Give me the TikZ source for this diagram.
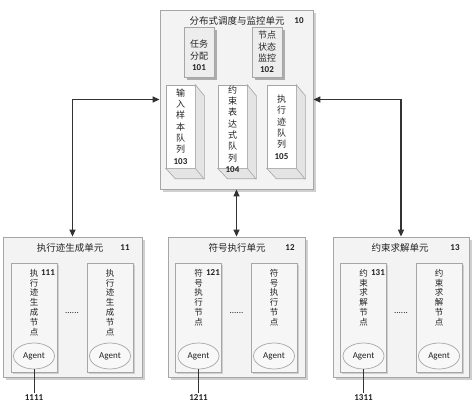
\documentclass[tikz,border=0pt]{standalone}
\usepackage{fontspec}
\setmainfont{Carlito}
\newfontfamily\cjk{Noto Sans CJK SC}
\newfontfamily\numf{Carlito}
\usetikzlibrary{shadows,arrows.meta,shapes.geometric,calc}
\definecolor{txt}{HTML}{222222}
\definecolor{bordc}{HTML}{A6A6A6}
\definecolor{boxfill}{HTML}{F3F3F3}
\definecolor{innfill}{HTML}{F6F6F6}
\definecolor{smfill}{HTML}{EDEDED}
\definecolor{sidefill}{HTML}{E4E4E4}
\definecolor{ellfill}{HTML}{F8F8F8}
\definecolor{shadc}{HTML}{CFCFCF}
\definecolor{arrc}{HTML}{333333}
\tikzset{
 every node/.style={text=txt},
 outerbox/.style={draw=bordc, fill=boxfill, line width=0.8pt, drop shadow={shadow xshift=2.5pt, shadow yshift=-2.5pt, fill=shadc, opacity=1}, inner sep=0},
 innerbox/.style={draw=bordc, fill=innfill, line width=0.7pt, drop shadow={shadow xshift=1.5pt, shadow yshift=-1.5pt, fill=shadc, opacity=1}, inner sep=0, minimum width=46, minimum height=109},
 smallbox/.style={draw=bordc, fill=smfill, line width=0.6pt, drop shadow={shadow xshift=3pt, shadow yshift=-3pt, fill=gray!65, opacity=1}, minimum width=30, minimum height=50, inner sep=0},
 front/.style={draw=bordc, fill=white, line width=0.6pt, minimum width=29, minimum height=83, inner sep=0},
 sideface/.style={draw=bordc, fill=sidefill, line width=0.6pt},
 agent/.style={ellipse, draw=bordc, fill=ellfill, line width=0.7pt, minimum width=41, minimum height=26, inner sep=0, font=\numf\fontsize{9}{10}\selectfont},
 cjkv/.style={align=center, inner sep=0, font=\cjk\fontsize{8.5}{9.8}\selectfont},
 cjkq/.style={align=center, inner sep=0, font=\cjk\fontsize{9}{11.3}\selectfont},
 ttl/.style={inner sep=0, font=\cjk\fontsize{9.5}{11}\selectfont},
 num/.style={inner sep=0, font=\numf\bfseries\fontsize{9}{10}\selectfont},
 dots/.style={inner sep=0, font=\numf\fontsize{9}{10}\selectfont},
 arr/.style={draw=arrc, line width=1.3pt, {Triangle[length=7pt,width=6pt]}-{Triangle[length=7pt,width=6pt]}},
 tick/.style={draw=arrc, line width=0.9pt},
}
\begin{document}
\begin{tikzpicture}[x=1pt,y=-1pt]
\useasboundingbox[fill=white] (0,0) rectangle (474,405);

% ---------- top unit ----------
\node[outerbox, minimum width=153, minimum height=179] (top) at (236.5,99.5) {};
\node[ttl] (t10) at (237,21) {分布式调度与监控单元};
\node[num] (n10) at (299,21) {10};

\node[smallbox] (b101) at (199,52) {};
\node[cjkq] (x101) at (199,55.5) {任务\\分配\\{\numf\bfseries 101}};
\node[smallbox] (b102) at (267,52) {};
\node[cjkq] (x102) at (267,52) {节点\\状态\\监控\\{\numf\bfseries 102}};

% cuboids
\foreach \nm/\cx in {q103/180.5, q104/232.5, q105/281.5}{
  \node[front] (\nm) at (\cx,126.5) {};
  \draw[sideface] (\nm.north east) -- ++(9,11) -- ++(0,83) -- ++(-29,0) -- (\nm.south west) -- (\nm.south east) -- cycle;
  \draw[bordc, line width=0.6pt] (\nm.south east) -- ++(9,11);
}
\node[cjkq] (x103) at (180.5,126.5) {输\\入\\样\\本\\队\\列\\{\numf\bfseries 103}};
\node[cjkq] (x104) at (232.5,129) {约\\束\\表\\达\\式\\队\\列\\{\numf\bfseries 104}};
\node[cjkq] (x105) at (281.5,127) {执\\行\\迹\\队\\列\\{\numf\bfseries 105}};

% ---------- bottom units ----------
\node[outerbox, minimum width=139, minimum height=140] (u11) at (72.5,307) {};
\node[outerbox, minimum width=137, minimum height=140] (u12) at (236.5,307) {};
\node[outerbox, minimum width=136, minimum height=140] (u13) at (401,307) {};

\node[ttl] (t11) at (70,248) {执行迹生成单元};
\node[num] (n11) at (125,248) {11};
\node[ttl] (t12) at (237,248) {符号执行单元};
\node[num] (n12) at (290,248) {12};
\node[ttl] (t13) at (400,248) {约束求解单元};
\node[num] (n13) at (455,248) {13};

% inner node boxes
\node[innerbox] (i11a) at (34,317.5) {};
\node[innerbox] (i11b) at (110,317.5) {};
\node[innerbox] (i12a) at (198.5,317.5) {};
\node[innerbox] (i12b) at (274,317.5) {};
\node[innerbox] (i13a) at (363.5,317.5) {};
\node[innerbox] (i13b) at (439,317.5) {};

\node[cjkv] (v11a) at (34,302.4) {执\\行\\迹\\生\\成\\节\\点};
\node[cjkv] (v11b) at (110,302.4) {执\\行\\迹\\生\\成\\节\\点};
\node[cjkv] (v12a) at (198.5,297.5) {符\\号\\执\\行\\节\\点};
\node[cjkv] (v12b) at (274,297.5) {符\\号\\执\\行\\节\\点};
\node[cjkv] (v13a) at (363.5,297.5) {约\\束\\求\\解\\节\\点};
\node[cjkv] (v13b) at (439,297.5) {约\\束\\求\\解\\节\\点};

\node[num] (n111) at (48,273) {111};
\node[num] (n121) at (213,273) {121};
\node[num] (n131) at (378,273) {131};

\node[dots] (d11) at (72,313) {......};
\node[dots] (d12) at (236.5,313) {......};
\node[dots] (d13) at (401,313) {......};

\node[agent] (a11a) at (34,356) {Agent};
\node[agent] (a11b) at (110,356) {Agent};
\node[agent] (a12a) at (198.5,356) {Agent};
\node[agent] (a12b) at (274,356) {Agent};
\node[agent] (a13a) at (363.5,356) {Agent};
\node[agent] (a13b) at (439,356) {Agent};

\node[num, inner sep=2pt] (l1111) at (34,398) {1111};
\node[num, inner sep=2pt] (l1211) at (198.5,398) {1211};
\node[num, inner sep=2pt] (l1311) at (363.5,398) {1311};
\draw[tick] (a11a.south) -- (l1111.north);
\draw[tick] (a12a.south) -- (l1211.north);
\draw[tick] (a13a.south) -- (l1311.north);

% ---------- connectors ----------
\draw[arr] (u11.north) |- (top.west);
\draw[arr] (u12.north) -- (top.south);
\draw[arr] (u13.north) |- (top.east);
\end{tikzpicture}
\end{document}
